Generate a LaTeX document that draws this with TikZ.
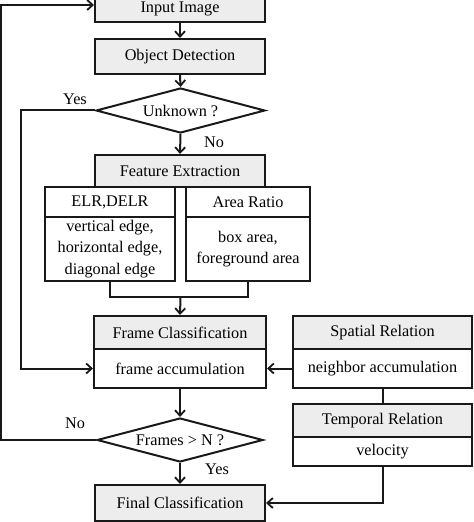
\documentclass[tikz,border=0pt]{standalone}
\usepackage{fontspec}
\setmainfont{Liberation Serif}
\usetikzlibrary{shapes.geometric,arrows.meta}
\definecolor{titlegray}{HTML}{EDEDED}
\begin{document}
\begin{tikzpicture}[x=1bp,y=-1bp,
  font=\fontsize{16.3}{19}\selectfont,
  box/.style={draw=black!90,line width=2bp,fill=titlegray,minimum width=170bp,minimum height=35bp,inner sep=0pt},
  titlebox/.style={draw=black!90,line width=2bp,fill=titlegray,inner sep=0pt},
  bodybox/.style={draw=black!90,line width=2bp,fill=white,inner sep=0pt,align=center,font=\fontsize{16.3}{21.5}\selectfont},
  decision/.style={diamond,draw=black!90,line width=2bp,fill=white,inner sep=0pt,aspect=3.7},
  conn/.style={draw=black!90,line width=2bp},
  arr/.style={conn,-{Straight Barb[length=5.5bp,width=10bp,line width=1.8bp]}},
  lbl/.style={inner sep=0pt}]
\useasboundingbox (0,0) rectangle (474,522);
\clip (0,0) rectangle (474,522);

\node[box,text height=19bp,text depth=4bp] (in) at (180,5) {Input Image};
\node[box] (od) at (180,56.5) {Object Detection};
\node[decision,minimum width=169bp,minimum height=45bp] (unk) at (180.5,110.5) {Unknown ?};
\node[box,minimum height=32bp] (fe) at (180,171) {Feature Extraction};

\node[titlebox,fill=white,minimum width=130bp,minimum height=30bp] (elrT) at (110,202) {ELR,DELR};
\node[bodybox,minimum width=130bp,minimum height=64bp] (elrB) at (110,249) {vertical edge,\\horizontal edge,\\diagonal edge};
\node[titlebox,fill=white,minimum width=124bp,minimum height=30bp] (arT) at (248,202) {Area Ratio};
\node[bodybox,minimum width=124bp,minimum height=64bp] (arB) at (248,249) {box area,\\foreground area};

\coordinate (jm) at (180.5,297);

\node[titlebox,minimum width=172bp,minimum height=33bp] (fcT) at (180,332.5) {Frame Classification};
\node[bodybox,minimum width=172bp,minimum height=39bp] (fcB) at (180,368.5) {frame accumulation};
\node[titlebox,minimum width=179bp,minimum height=33bp] (spT) at (382.5,332.5) {Spatial Relation};
\node[bodybox,minimum width=179bp,minimum height=39bp] (spB) at (382.5,368.5) {neighbor accumulation};
\node[titlebox,minimum width=179bp,minimum height=33bp] (tpT) at (382.5,420.5) {Temporal Relation};
\node[bodybox,minimum width=179bp,minimum height=29bp] (tpB) at (382.5,451.5) {velocity};

\node[decision,minimum width=166bp,minimum height=44bp] (frm) at (180,440) {Frames > N ?};
\node[box,minimum height=36bp] (fin) at (180,503) {Final Classification};

\draw[arr] (in.south) -- (od.north);
\draw[arr] (od.south) -- (unk.north);
\draw[arr] (unk.south) -- (fe.north);
\node[lbl] (no1) at (214,142) {No};
\draw[arr] (unk.west) -- ++(-74,0) |- (fcB.west);
\node[lbl] (yes1) at (75,99) {Yes};

\draw[conn] (elrB.south) |- (jm) -| (arB.south);
\draw[arr] (jm) -- (fcT.north);

\draw[arr] (spB.west) -- (fcB.east);
\draw[conn] (spB.south) -- (tpT.north);
\draw[arr] (tpB.south) |- (fin.east);

\draw[arr] (fcB.south) -- (frm.north);
\draw[arr] (frm.south) -- (fin.north);
\node[lbl] (yes2) at (217,469) {Yes};
\draw[arr] (frm.west) -- (1,440) |- (in.west);
\node[lbl] (no2) at (75,423) {No};
\end{tikzpicture}
\end{document}
